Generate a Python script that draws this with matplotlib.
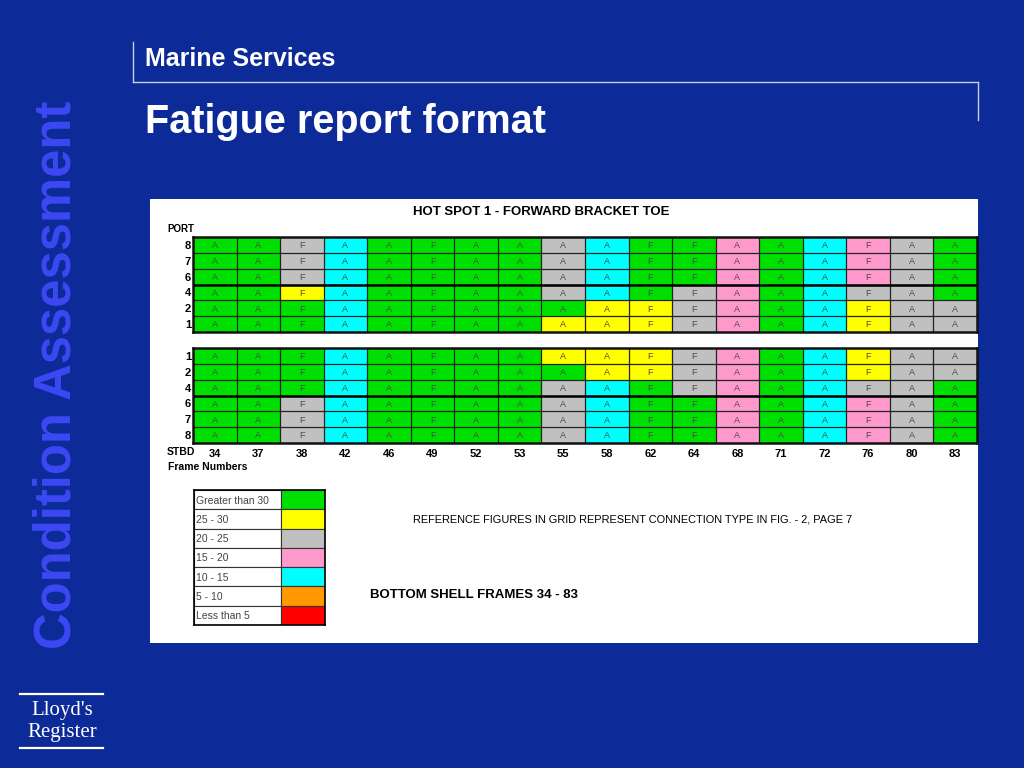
import numpy as np
import matplotlib
matplotlib.use("Agg")
import matplotlib.pyplot as plt
from matplotlib.colors import ListedColormap
from matplotlib.patches import Rectangle
from matplotlib.lines import Line2D

# frame numbers along the bottom shell
frames = [34, 37, 38, 42, 46, 49, 52, 53, 55, 58, 62, 64, 68, 71, 72, 76, 80, 83]
conn_type = list("AAFAAFAAAAFFAAAFAA")

# fatigue life band per cell (G,Y,S,P,C,O,R -> legend order)
port_rows = ["8", "7", "6", "4", "2", "1"]
port_bands = ["GGSCGGGGSCGGPGCPSG",
              "GGSCGGGGSCGGPGCPSG",
              "GGSCGGGGSCGGPGCPSG",
              "GGYCGGGGSCGSPGCSSG",
              "GGGCGGGGGYYSPGCYSS",
              "GGGCGGGGYYYSPGCYSS"]
stbd_rows = ["1", "2", "4", "6", "7", "8"]
stbd_bands = ["GGGCGGGGYYYSPGCYSS",
              "GGGCGGGGGYYSPGCYSS",
              "GGGCGGGGSCGSPGCSSG",
              "GGSCGGGGSCGGPGCPSG",
              "GGSCGGGGSCGGPGCPSG",
              "GGSCGGGGSCGGPGCPSG"]

band_labels = ["Greater than 30", "25 - 30", "20 - 25", "15 - 20", "10 - 15", "5 - 10", "Less than 5"]
band_codes = ["G", "Y", "S", "P", "C", "O", "R"]
band_colors = ["#00e000", "#ffff00", "#c0c0c0", "#ff99cc", "#00ffff", "#ff9900", "#ff0000"]

BG = "#0c2b98"
narrow = ["Liberation Sans Narrow", "Liberation Sans", "DejaVu Sans"]
sans = ["Liberation Sans", "DejaVu Sans"]
cmap = ListedColormap(band_colors)

W, H = 1024, 768


def px(x, y):
    return x / W, 1 - y / H


def ax_at(x0, y0, x1, y1):
    return fig.add_axes([x0 / W, 1 - y1 / H, (x1 - x0) / W, (y1 - y0) / H])


fig = plt.figure(figsize=(10.24, 7.68), dpi=100, facecolor=BG)

# slide furniture
fig.add_artist(Line2D([133 / W, 133 / W], [1 - 42 / H, 1 - 82 / H], color="#c8cce0", lw=1))
fig.add_artist(Line2D([133 / W, 978 / W], [1 - 82 / H, 1 - 82 / H], color="#c8cce0", lw=1))
fig.add_artist(Line2D([978 / W, 978 / W], [1 - 82 / H, 1 - 120 / H], color="#c8cce0", lw=1))
fig.text(*px(145, 59), "Marine Services", color="white", fontsize=18, fontweight="bold",
         family=sans, va="center", ha="left")
fig.text(*px(145, 122), "Fatigue report format", color="white", fontsize=28.5, fontweight="bold",
         family=sans, va="center", ha="left")
fig.text(*px(57, 375), "Condition Assessment", color="#3c48f2", fontsize=36.5, fontweight="bold",
         family=sans, rotation=90, va="center", ha="center")

# Lloyd's Register logo
fig.add_artist(Line2D([20 / W, 103 / W], [1 - 694 / H, 1 - 694 / H], color="white", lw=1.6))
fig.add_artist(Line2D([20 / W, 103 / W], [1 - 748 / H, 1 - 748 / H], color="white", lw=1.6))
fig.text(*px(62, 711), "Lloyd's", color="white", fontsize=15, family=["Liberation Serif", "DejaVu Serif"],
         va="center", ha="center")
fig.text(*px(62, 733), "Register", color="white", fontsize=15, family=["Liberation Serif", "DejaVu Serif"],
         va="center", ha="center")

# white panel, kept behind the grids
fig.add_artist(Rectangle(px(150, 643), 828 / W, 444 / H, facecolor="white", edgecolor="none", zorder=-5))

fig.text(*px(541, 212), "HOT SPOT 1 - FORWARD BRACKET TOE", fontsize=9.5, fontweight="bold",
         family=narrow, va="center", ha="center", color="black")
fig.text(*px(167, 229), "PORT", fontsize=7, fontweight="bold", family=narrow, va="center", ha="left")
fig.text(*px(167, 452), "STBD", fontsize=7.5, fontweight="bold", family=narrow, va="center", ha="left")
fig.text(*px(168, 467), "Frame Numbers", fontsize=7.5, fontweight="bold", family=narrow,
         va="center", ha="left")
fig.text(*px(413, 520), "REFERENCE FIGURES IN GRID REPRESENT CONNECTION TYPE IN FIG. - 2, PAGE 7",
         fontsize=7.9, family=narrow, va="center", ha="left")
fig.text(*px(370, 595), "BOTTOM SHELL FRAMES 34 - 83", fontsize=9.5, fontweight="bold",
         family=narrow, va="center", ha="left")


def draw_grid(ax, rows, bands, show_frames):
    idx = {c: i for i, c in enumerate(band_codes)}
    z = np.array([[idx[c] for c in b] for b in bands])
    nx, ny = len(frames), len(rows)
    ax.pcolormesh(np.arange(nx + 1), np.arange(ny + 1), z, cmap=cmap, vmin=-0.5, vmax=6.5,
                  antialiased=False)
    ax.vlines(np.arange(1, nx), 0, ny, color="#222222", lw=0.9)
    ax.hlines(np.arange(1, ny), 0, nx, color="#222222", lw=0.9)
    ax.axhline(3, color="black", lw=1.8)
    for i in range(ny):
        for j in range(nx):
            ax.text(j + 0.5, i + 0.55, conn_type[j], ha="center", va="center", fontsize=6.5,
                    color="#4a4a4a", family=sans)
    ax.set_xlim(0, nx)
    ax.set_ylim(ny, 0)
    ax.set_yticks(np.arange(ny) + 0.5)
    ax.set_yticklabels(rows, fontsize=8, fontweight="bold", family=narrow)
    if show_frames:
        ax.set_xticks(np.arange(nx) + 0.5)
        ax.set_xticklabels(frames, fontsize=8, fontweight="bold", family=narrow)
    else:
        ax.set_xticks([])
    ax.tick_params(length=0, pad=1.5)
    ax.tick_params(axis="x", pad=4)
    for s in ax.spines.values():
        s.set_linewidth(1.8)
        s.set_color("#111111")


ax_top = ax_at(193, 237, 977, 332)
draw_grid(ax_top, port_rows, port_bands, False)
ax_bot = ax_at(193, 348, 977, 443)
draw_grid(ax_bot, stbd_rows, stbd_bands, True)

# legend table
ax_leg = ax_at(194, 490, 325, 625)
n = len(band_labels)
for i, (lab, col) in enumerate(zip(band_labels, band_colors)):
    ax_leg.add_patch(Rectangle((0, i), 2, 1, facecolor="white", edgecolor="#333333", lw=0.8))
    ax_leg.add_patch(Rectangle((2, i), 1, 1, facecolor=col, edgecolor="#333333", lw=0.8))
    ax_leg.text(0.05, i + 0.55, lab, ha="left", va="center", fontsize=7.5, family=narrow,
                color="#444444")
ax_leg.set_xlim(0, 3)
ax_leg.set_ylim(n, 0)
ax_leg.set_xticks([])
ax_leg.set_yticks([])
for s in ax_leg.spines.values():
    s.set_linewidth(1.2)

fig.savefig("out.png", dpi=100, facecolor=BG)
